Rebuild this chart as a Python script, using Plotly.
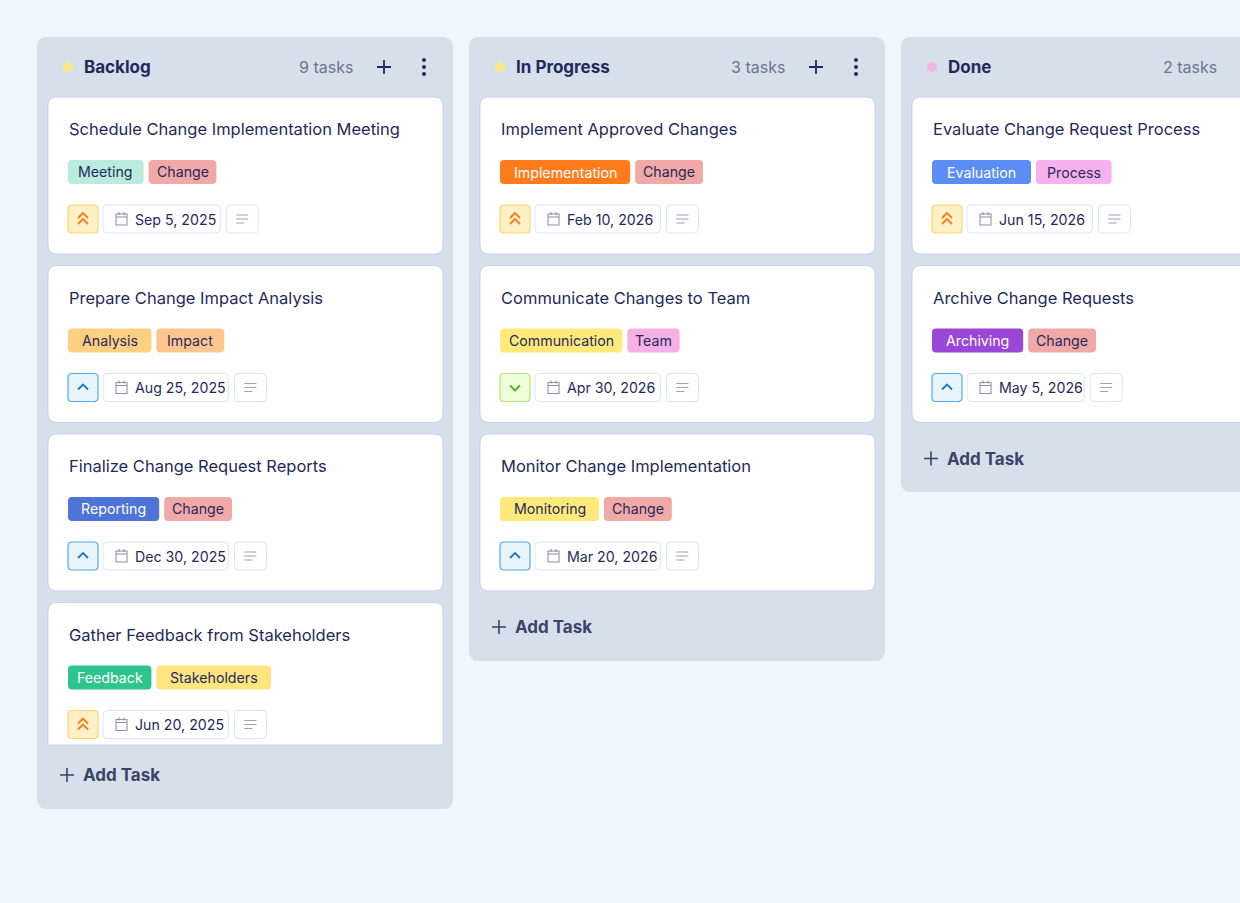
import plotly.graph_objects as go

columns = ["Backlog", "In Progress", "Done"]
task_counts = ["9 tasks", "3 tasks", "2 tasks"]
dot_colors = ["#fde68a", "#fde68a", "#f5b3e3"]

titles = [
    ["Schedule Change Implementation Meeting", "Prepare Change Impact Analysis",
     "Finalize Change Request Reports", "Gather Feedback from Stakeholders"],
    ["Implement Approved Changes", "Communicate Changes to Team", "Monitor Change Implementation"],
    ["Evaluate Change Request Process", "Archive Change Requests"],
]
tags = [
    [["Meeting", "Change"], ["Analysis", "Impact"], ["Reporting", "Change"], ["Feedback", "Stakeholders"]],
    [["Implementation", "Change"], ["Communication", "Team"], ["Monitoring", "Change"]],
    [["Evaluation", "Process"], ["Archiving", "Change"]],
]
priorities = [
    ["high", "medium", "medium", "high"],
    ["high", "low", "medium"],
    ["high", "medium"],
]
dates = [
    ["Sep 5, 2025", "Aug 25, 2025", "Dec 30, 2025", "Jun 20, 2025"],
    ["Feb 10, 2026", "Apr 30, 2026", "Mar 20, 2026"],
    ["Jun 15, 2026", "May 5, 2026"],
]

tag_style = {
    "Meeting": ("#b9ecdd", "#1f2a5c"), "Change": ("#f0a9a6", "#1f2a5c"),
    "Analysis": ("#ffcf82", "#1f2a5c"), "Impact": ("#ffc58f", "#1f2a5c"),
    "Reporting": ("#4e74d9", "#ffffff"), "Feedback": ("#2ec48e", "#ffffff"),
    "Stakeholders": ("#ffe57d", "#1f2a5c"), "Implementation": ("#ff7b1c", "#ffffff"),
    "Communication": ("#ffe97a", "#1f2a5c"), "Team": ("#f5b1e6", "#1f2a5c"),
    "Monitoring": ("#ffe97a", "#1f2a5c"), "Evaluation": ("#5b8ef5", "#ffffff"),
    "Process": ("#f6b2ee", "#1f2a5c"), "Archiving": ("#9a46d6", "#ffffff"),
}
prio_style = {
    "high": ("#fff0c6", "#ffd36a", "#f57c1f"),
    "medium": ("#e8f5ff", "#4fa9ef", "#1d74d6"),
    "low": ("#ecffd8", "#b0e67a", "#5aa91e"),
}

NAVY = "#1f2a5c"
FONT = "Inter"
shapes, ann = [], []


def rr(x0, y0, x1, y1, r, bottom=True):
    rb = r if bottom else 0
    p = (f"M{x0+r},{y0} L{x1-r},{y0} Q{x1},{y0} {x1},{y0+r} "
         f"L{x1},{y1-rb} Q{x1},{y1} {x1-rb},{y1} L{x0+rb},{y1} Q{x0},{y1} {x0},{y1-rb} "
         f"L{x0},{y0+r} Q{x0},{y0} {x0+r},{y0} Z")
    return p


def box(x0, y0, x1, y1, r, fill, line=None, lw=1, bottom=True):
    shapes.append(dict(type="path", path=rr(x0, y0, x1, y1, r, bottom), fillcolor=fill,
                       line=dict(color=line or fill, width=lw if line else 0), layer="above"))


def text(x, y, s, size, color=NAVY, anchor="left", weight=None):
    t = f"<b>{s}</b>" if weight else s
    ann.append(dict(x=x, y=y, text=t, showarrow=False, xanchor=anchor, yanchor="middle",
                    font=dict(family=FONT, size=size, color=color)))


def line(path, color, w=1.6):
    shapes.append(dict(type="path", path=path, line=dict(color=color, width=w), layer="above"))


col_x = [37, 469, 901]
col_bottom = [809, 661, 492]
CARD_H, STEP = 157, 168.5
for ci, name in enumerate(columns):
    cx = col_x[ci]
    box(cx, 37, cx + 416, col_bottom[ci], 10, "#d6e0eb")
    shapes.append(dict(type="circle", x0=cx + 26, x1=cx + 36, y0=62, y1=72,
                       fillcolor=dot_colors[ci], line=dict(width=0), layer="above"))
    text(cx + 45, 67, name, 17, weight=True)
    text(cx + 318, 67, task_counts[ci], 16, "#6b7490", anchor="right")
    line(f"M{cx+340},{67} L{cx+354},{67} M{cx+347},{60} L{cx+347},{74}", NAVY, 1.8)
    for dy in (-7, 0, 7):
        shapes.append(dict(type="circle", x0=cx + 385, x1=cx + 389, y0=67 + dy - 2, y1=67 + dy + 2,
                           fillcolor=NAVY, line=dict(width=0), layer="above"))
    n = len(titles[ci])
    for ti in range(n):
        x0 = cx + 11
        y0 = 97 + ti * STEP
        clipped = (ci == 0 and ti == 3)
        y1 = 745 if clipped else y0 + CARD_H
        box(x0, y0, x0 + 395, y1, 9, "#ffffff", "#c9d3ee", 1, bottom=not clipped)
        text(x0 + 19, y0 + 32, titles[ci][ti], 16.5)
        tx = x0 + 20
        for tg in tags[ci][ti]:
            w = 7.8 * len(tg) + 21
            bg, fg = tag_style[tg]
            box(tx, y0 + 63, tx + w, y0 + 87, 4, bg)
            text(tx + w / 2, y0 + 75, tg, 14.2, fg, anchor="center")
            tx += w + 5
        fy = y0 + 122
        bg, bd, fg = prio_style[priorities[ci][ti]]
        px = x0 + 20
        box(px, fy - 14, px + 30, fy + 14, 4, bg, bd, 1.2)
        mx = px + 15
        if priorities[ci][ti] == "high":
            line(f"M{mx-5},{fy-1} L{mx},{fy-6} L{mx+5},{fy-1} M{mx-5},{fy+5} L{mx},{fy} L{mx+5},{fy+5}", fg, 1.8)
        elif priorities[ci][ti] == "medium":
            line(f"M{mx-5},{fy+2} L{mx},{fy-3} L{mx+5},{fy+2}", fg, 1.8)
        else:
            line(f"M{mx-5},{fy-2} L{mx},{fy+3} L{mx+5},{fy-2}", fg, 1.8)
        dx = x0 + 55
        dw = 8.2 * len(dates[ci][ti]) + 27
        box(dx, fy - 14, dx + dw, fy + 14, 4, "#ffffff", "#dde3f2", 1)
        ix = dx + 13
        shapes.append(dict(type="rect", x0=ix, x1=ix + 11, y0=fy - 5, y1=fy + 6,
                           line=dict(color="#8a92ad", width=1.1), layer="above"))
        line(f"M{ix},{fy-2} L{ix+11},{fy-2} M{ix+3},{fy-7} L{ix+3},{fy-4} M{ix+8},{fy-7} L{ix+8},{fy-4}", "#8a92ad", 1.1)
        text(dx + 30, fy, dates[ci][ti], 14.2)
        nx = dx + dw + 6
        box(nx, fy - 14, nx + 32, fy + 14, 4, "#ffffff", "#dde3f2", 1)
        line(f"M{nx+10},{fy-4} L{nx+22},{fy-4} M{nx+10},{fy} L{nx+22},{fy} M{nx+10},{fy+4} L{nx+18},{fy+4}", "#9aa1ba", 1.1)
    add_y = 775 if ci == 0 else 97 + (n - 1) * STEP + CARD_H + 36
    line(f"M{cx+23},{add_y} L{cx+37},{add_y} M{cx+30},{add_y-7} L{cx+30},{add_y+7}", "#3a4468", 1.6)
    text(cx + 44, add_y, "Add Task", 17, "#3a4468", weight=True)

fig = go.Figure()
fig.update_layout(
    width=1240, height=903, margin=dict(l=0, r=0, t=0, b=0),
    paper_bgcolor="#eef7fd", plot_bgcolor="#eef7fd",
    xaxis=dict(range=[0, 1240], visible=False, fixedrange=True),
    yaxis=dict(range=[903, 0], visible=False, fixedrange=True),
    shapes=shapes, annotations=ann, showlegend=False,
)
fig.write_html("out.html", config={"displayModeBar": False},
               post_script="document.body.style.margin='0';document.body.style.overflow='hidden';document.body.style.background='#eef7fd';")
